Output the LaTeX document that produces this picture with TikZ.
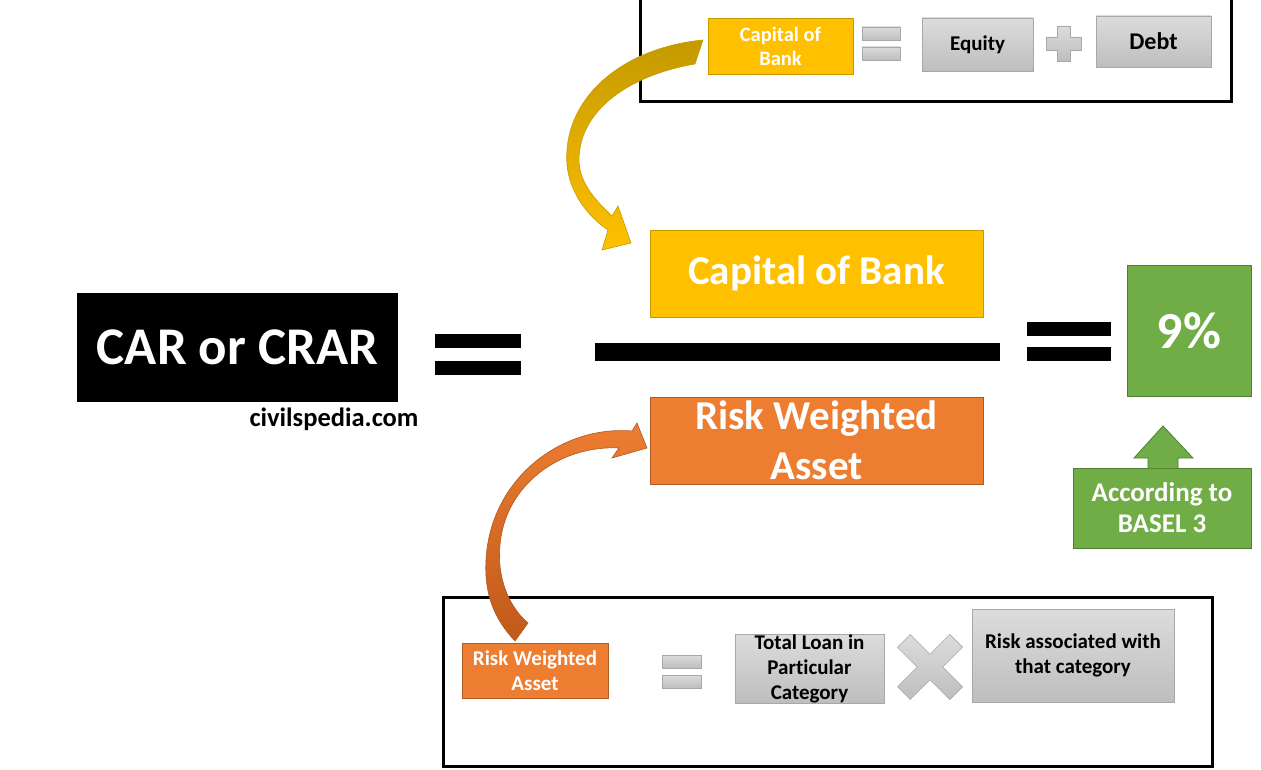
\documentclass[tikz,border=0pt]{standalone}
\usepackage{fontspec}
\setmainfont{Carlito}[Ligatures=NoCommon]
\definecolor{yel}{HTML}{FFC000}
\definecolor{yelb}{HTML}{C89A00}
\definecolor{yeldark}{HTML}{C49A00}
\definecolor{ora}{HTML}{ED7D31}
\definecolor{orab}{HTML}{AE5A21}
\definecolor{oradark}{HTML}{C0591A}
\definecolor{grn}{HTML}{70AD47}
\definecolor{grnb}{HTML}{507E32}
\definecolor{gtop}{HTML}{DCDCDC}
\definecolor{gbot}{HTML}{BEBEBE}
\definecolor{gbord}{HTML}{A8A8A8}
\tikzset{
  base/.style={inner sep=0pt, align=center, font=\bfseries},
  ybox/.style={base, fill=yel, draw=yelb, line width=0.8pt, text=white},
  obox/.style={base, fill=ora, draw=orab, line width=0.8pt, text=white},
  gbox/.style={base, fill=grn, draw=grnb, line width=0.8pt, text=white},
  graybox/.style={base, top color=gtop, bottom color=gbot, draw=gbord, line width=0.8pt, text=black},
  graysh/.style={top color=gtop, bottom color=gbot, draw=gbord, line width=0.6pt},
  frame/.style={draw=black, line width=3pt},
}
\begin{document}
\begin{tikzpicture}[x=1pt,y=-1pt]
\useasboundingbox (0,0) rectangle (1261,770);
% frames
\draw[frame] (640,-10) -- (640,102) -- (1231,102) -- (1231,-10);
\draw[frame] (443,597) rectangle (1212,766);
% top formula
\node[ybox, minimum width=145, minimum height=56, font=\bfseries\fontsize{20.5}{24}\selectfont] (capS) at (780.5,46) {Capital of\\Bank};
\shade[graysh] (862,27) rectangle (900,40);
\shade[graysh] (862,47) rectangle (900,60);
\node[graybox, minimum width=111, minimum height=53, font=\bfseries\fontsize{21}{24}\selectfont] (eq) at (977.5,44.5) {Equity};
\shade[graysh] (1057,26) -- (1070,26) -- (1070,37) -- (1081,37) -- (1081,50) -- (1070,50) -- (1070,61) -- (1057,61) -- (1057,50) -- (1046,50) -- (1046,37) -- (1057,37) -- cycle;
\node[graybox, minimum width=115, minimum height=51, font=\bfseries\fontsize{24}{28}\selectfont] (debt) at (1153.5,41.5) {Debt};
% main
\node[base, fill=black, text=white, minimum width=321, minimum height=109, font=\bfseries\fontsize{53}{60}\selectfont] (car) at (237.5,347.5) {CAR or CRAR};
\node[base, text=black, font=\bfseries\fontsize{26.5}{30}\selectfont] (site) at (334,419) {civilspedia.com};
\fill[black] (435,334) rectangle (521,348);
\fill[black] (435,361) rectangle (521,375);
\node[ybox, minimum width=333, minimum height=87, font=\bfseries\fontsize{41}{50}\selectfont] (cap) at (816.5,273.5) {Capital of Bank};
\fill[black] (595,343) rectangle (1000,361);
\node[obox, minimum width=333, minimum height=87, font=\bfseries\fontsize{41}{50}\selectfont] (rwa) at (816.5,440.5) {Risk Weighted\\Asset};
\fill[black] (1027,322) rectangle (1111,336);
\fill[black] (1027,347) rectangle (1111,361);
\node[gbox, minimum width=124, minimum height=131, font=\bfseries\fontsize{52}{60}\selectfont] (pct) at (1189,330.5) {9\%};
\node[gbox, minimum width=178, minimum height=80, font=\bfseries\fontsize{27}{31}\selectfont] (basel) at (1162,508) {According to\\BASEL 3};
\filldraw[fill=grn, draw=grnb, line width=0.8pt] (1148,468) -- (1148,458) -- (1134,458) -- (1163,426) -- (1193,458) -- (1178,458) -- (1178,468);
% bottom formula
\node[obox, minimum width=146, minimum height=55, font=\bfseries\fontsize{21}{25}\selectfont] (rwaS) at (535,670.5) {Risk Weighted\\Asset};
\shade[graysh] (662,655) rectangle (701,668);
\shade[graysh] (662,675) rectangle (701,688);
\node[graybox, minimum width=149, minimum height=69, font=\bfseries\fontsize{21}{25}\selectfont] (loan) at (809.5,668.5) {Total Loan in\\Particular\\Category};
\begin{scope}[shift={(930,667)}, rotate=45]
\shade[graysh] (-9,-37) -- (9,-37) -- (9,-9) -- (37,-9) -- (37,9) -- (9,9) -- (9,37) -- (-9,37) -- (-9,9) -- (-37,9) -- (-37,-9) -- (-9,-9) -- cycle;
\end{scope}
\node[graybox, minimum width=202, minimum height=93, font=\bfseries\fontsize{21}{25}\selectfont] (risk) at (1073,655.5) {Risk associated with\\that category};
% curved arrows
\shade[top color=yeldark, bottom color=yel, draw=yelb, line width=0.6pt]
  (703,40) .. controls (620,48) and (562,100) .. (567,165)
  .. controls (570,195) and (590,218) .. (608,230)
  -- (602,250) -- (631,243) -- (618,206) -- (612,216)
  .. controls (595,200) and (579,182) .. (579,160)
  .. controls (579,110) and (630,75) .. (695,64) -- cycle;
\shade[top color=ora, bottom color=oradark, draw=orab, line width=0.6pt]
  (515,641) .. controls (495,620) and (484,595) .. (486,560)
  .. controls (490,480) and (560,425) .. (632,431)
  -- (637,423) -- (647,448) -- (612,458) -- (619,448)
  .. controls (560,445) and (505,485) .. (500,545)
  .. controls (497,575) and (507,605) .. (528,623) -- cycle;
\end{tikzpicture}
\end{document}
